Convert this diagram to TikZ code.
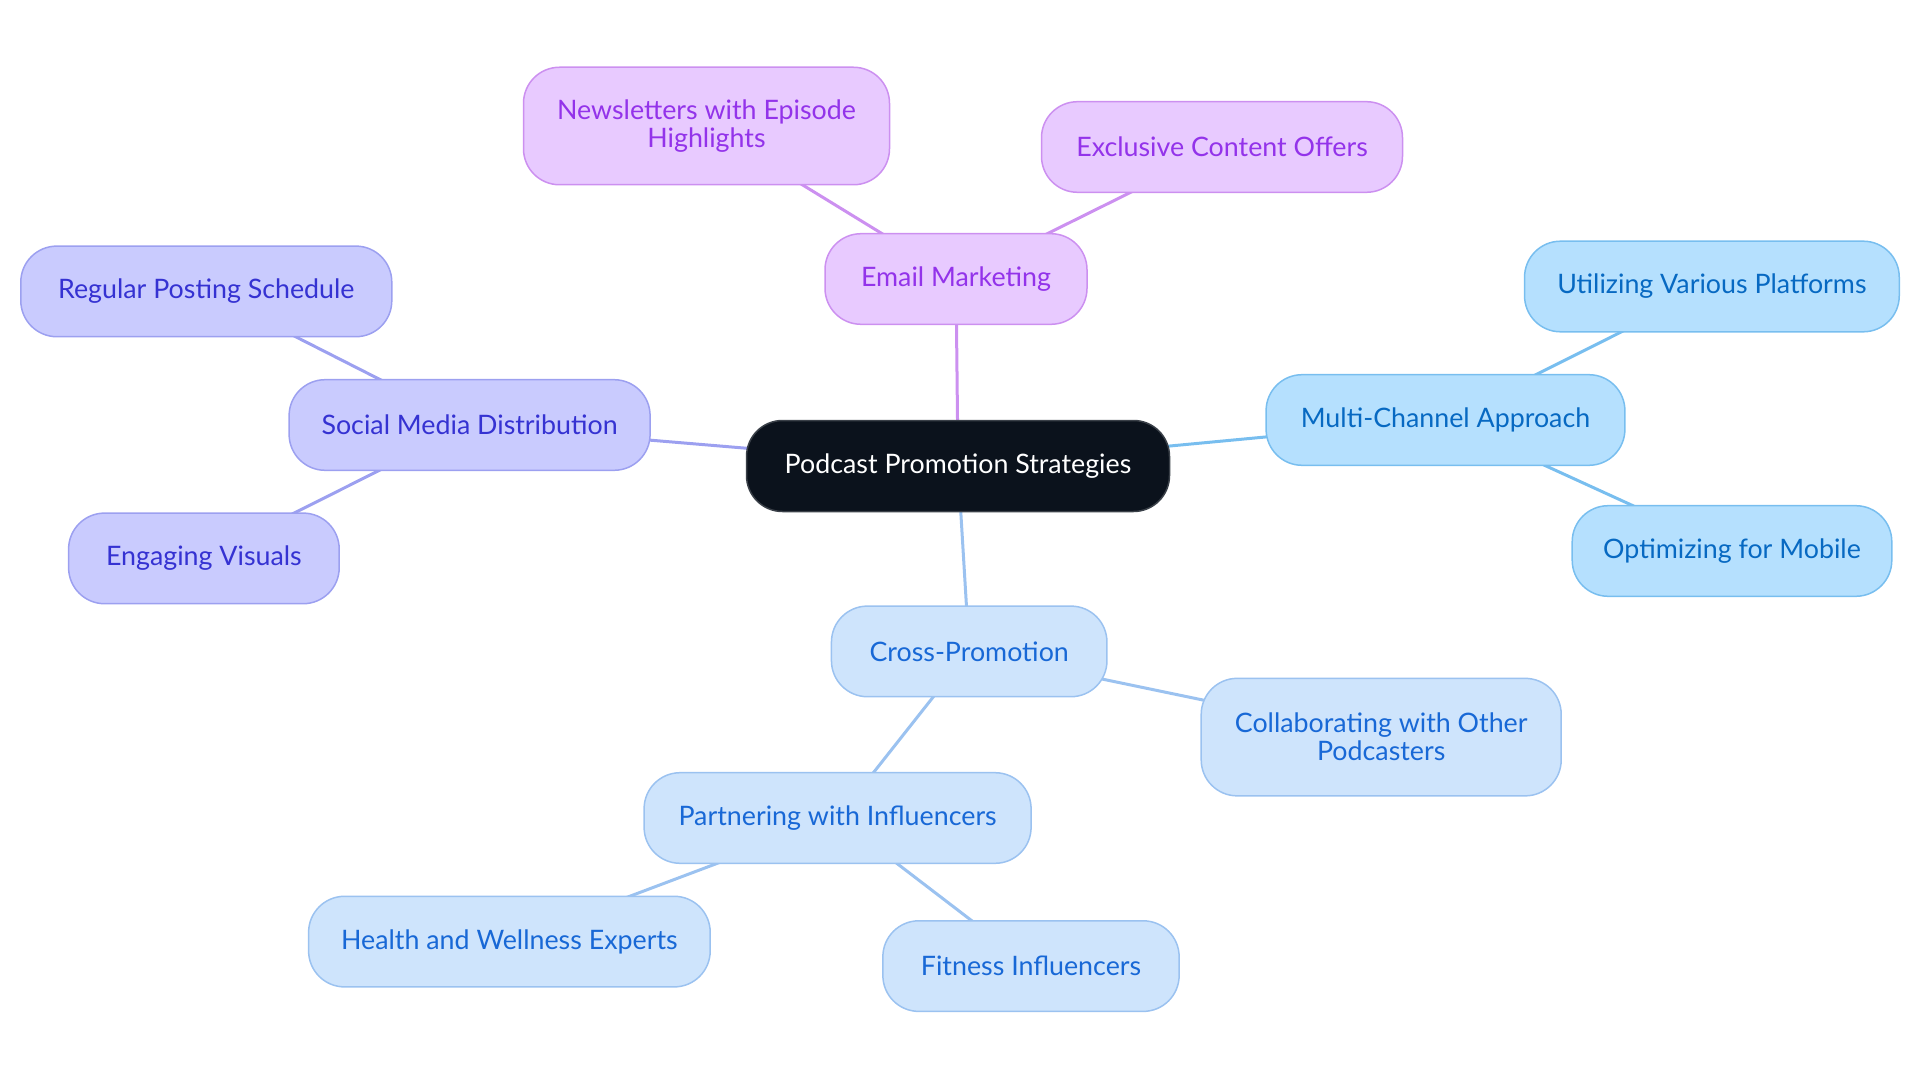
\documentclass[tikz,border=0pt]{standalone}
\usepackage{fontspec}
\setmainfont{Lato}
\usetikzlibrary{backgrounds}
\definecolor{rootfill}{HTML}{0B121C}
\definecolor{rootline}{HTML}{3A4048}
\definecolor{pfill}{HTML}{E8CAFF}
\definecolor{pline}{HTML}{CC90F0}
\definecolor{ptext}{HTML}{9333EA}
\definecolor{ifill}{HTML}{C9CBFE}
\definecolor{iline}{HTML}{9CA0F0}
\definecolor{itext}{HTML}{3532D2}
\definecolor{sfill}{HTML}{B5E0FE}
\definecolor{sline}{HTML}{78BEEF}
\definecolor{stext}{HTML}{0769C2}
\definecolor{bfill}{HTML}{CEE4FC}
\definecolor{bline}{HTML}{9BC2F0}
\definecolor{btext}{HTML}{1868D6}
\tikzset{
  box/.style={rounded corners=36pt, line width=1.5pt, inner sep=0pt,
    align=center, font=\fontsize{26.8}{28}\selectfont, minimum height=90.6pt},
  tall/.style={minimum height=117.5pt},
  rootbox/.style={box, fill=rootfill, draw=rootline, text=white},
  pbox/.style={box, fill=pfill, draw=pline, text=ptext},
  ibox/.style={box, fill=ifill, draw=iline, text=itext},
  sbox/.style={box, fill=sfill, draw=sline, text=stext},
  bbox/.style={box, fill=bfill, draw=bline, text=btext},
  link/.style={line width=3pt},
}
\begin{document}
\begin{tikzpicture}[x=1pt,y=-1pt]
\useasboundingbox (0,0) rectangle (1920,1083);
\node[rootbox, minimum width=423pt, minimum height=91pt] (root) at (958,466) {Podcast Promotion Strategies};
% Email branch
\node[pbox, minimum width=262pt] (email) at (956,279) {Email Marketing};
\node[pbox, tall, minimum width=366pt] (news) at (706.5,126) {Newsletters with Episode\\Highlights};
\node[pbox, minimum width=361pt] (excl) at (1222,147) {Exclusive Content Offers};
% Social branch
\node[ibox, minimum width=361pt] (social) at (469.6,425) {Social Media Distribution};
\node[ibox, minimum width=371pt] (regular) at (206.3,291.4) {Regular Posting Schedule};
\node[ibox, minimum width=270.6pt] (visuals) at (203.9,558.4) {Engaging Visuals};
% Multi-channel branch
\node[sbox, minimum width=358.8pt] (multi) at (1445.5,420) {Multi-Channel Approach};
\node[sbox, minimum width=374.7pt] (platforms) at (1711.9,286.5) {Utilizing Various Platforms};
\node[sbox, minimum width=319.6pt] (mobile) at (1732,551) {Optimizing for Mobile};
% Cross-promotion branch
\node[bbox, minimum width=275.5pt] (cross) at (969.2,651.4) {Cross-Promotion};
\node[bbox, tall, minimum width=360pt] (collab) at (1381.2,737.1) {Collaborating with Other\\Podcasters};
\node[bbox, minimum width=387pt] (partner) at (837.6,818) {Partnering with Influencers};
\node[bbox, minimum width=401.6pt] (health) at (509.4,941.6) {Health and Wellness Experts};
\node[bbox, minimum width=296.3pt] (fitness) at (1031,966.1) {Fitness Influencers};
\begin{scope}[on background layer]
\draw[link, draw=pline] (root.center) -- (email.center);
\draw[link, draw=pline] (email.center) -- (news.center);
\draw[link, draw=pline] (email.center) -- (excl.center);
\draw[link, draw=iline] (root.center) -- (social.center);
\draw[link, draw=iline] (social.center) -- (regular.center);
\draw[link, draw=iline] (social.center) -- (visuals.center);
\draw[link, draw=sline] (root.center) -- (multi.center);
\draw[link, draw=sline] (multi.center) -- (platforms.center);
\draw[link, draw=sline] (multi.center) -- (mobile.center);
\draw[link, draw=bline] (root.center) -- (cross.center);
\draw[link, draw=bline] (cross.center) -- (collab.center);
\draw[link, draw=bline] (cross.center) -- (partner.center);
\draw[link, draw=bline] (partner.center) -- (health.center);
\draw[link, draw=bline] (partner.center) -- (fitness.center);
\end{scope}
\end{tikzpicture}
\end{document}
